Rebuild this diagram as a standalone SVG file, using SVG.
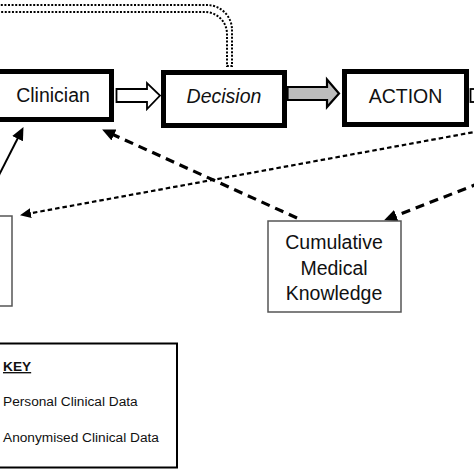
<svg xmlns="http://www.w3.org/2000/svg" width="474" height="474" viewBox="0 0 474 474">
<style>
.thick{fill:#fff;stroke:#000;stroke-width:5}
.thin{fill:#fff;stroke:#555;stroke-width:1.5}
.lbl{font-family:"Liberation Sans",Arial,sans-serif;fill:#111;text-anchor:middle}
.key{font-family:"Liberation Sans",Arial,sans-serif;fill:#111;font-size:13.7px}
.bold-dash{fill:none;stroke:#000;stroke-width:3.2;stroke-dasharray:9 6}
.fine-dash{fill:none;stroke:#000;stroke-width:2.2;stroke-dasharray:4.5 3}
</style>
<defs>
<marker id="hBig" markerUnits="userSpaceOnUse" markerWidth="14" markerHeight="14" refX="6" refY="6" orient="auto" viewBox="0 0 14 14">
<path d="M0,0 L13,6 L0,12 z" fill="#000"/>
</marker>
<marker id="hSmall" markerUnits="userSpaceOnUse" markerWidth="12" markerHeight="12" refX="5" refY="5" orient="auto" viewBox="0 0 12 12">
<path d="M0,0 L11,5 L0,10 z" fill="#000"/>
</marker>
</defs>
<rect width="474" height="474" fill="#fff"/>

<g id="connectors">
<path d="M-10 5 H207 A25 25 0 0 1 232 30 V66 H227 V34 A22 22 0 0 0 205 12 H-10" fill="none" stroke="#000" stroke-width="2" stroke-dasharray="2 1.6"/>
<path d="M116.5 89 H147 V83 L160 95.5 L147 109 V102 H116.5 Z" fill="#fff" stroke="#000" stroke-width="1.8" stroke-linejoin="miter"/>
<path d="M287.5 87 H327 V79.5 L339 93.5 L327 107 V100 H287.5 Z" fill="#bdbdbd" stroke="#000" stroke-width="2.2" stroke-linejoin="miter"/>
<rect x="470.5" y="89" width="10" height="13" fill="#fff" stroke="#000" stroke-width="1.8"/>
<line x1="-3" y1="179" x2="20.3" y2="133.3" stroke="#000" stroke-width="2" marker-end="url(#hBig)"/>
<line x1="297" y1="218" x2="108.5" y2="132.5" class="bold-dash" marker-end="url(#hBig)"/>
<line x1="480" y1="183" x2="390.6" y2="217.8" class="bold-dash" marker-end="url(#hBig)"/>
<line x1="480" y1="131" x2="25.9" y2="214.1" class="fine-dash" marker-end="url(#hSmall)"/>
</g>

<g id="clinician">
<rect x="-10" y="71.5" width="121.5" height="48" class="thick"/>
<text x="53" y="102" class="lbl" font-size="19.5">Clinician</text>
</g>
<g id="decision">
<rect x="163.5" y="72.5" width="121" height="53" class="thick"/>
<text x="224" y="103" class="lbl" font-size="19.5" font-style="italic">Decision</text>
</g>
<g id="action">
<rect x="344.5" y="71.5" width="122" height="53" class="thick"/>
<text x="405.5" y="102.5" class="lbl" font-size="19.5">ACTION</text>
</g>
<g id="left-box">
<rect x="-10" y="216" width="22" height="90" class="thin"/>
</g>
<g id="knowledge">
<rect x="268" y="221" width="133" height="91" class="thin"/>
<text x="334" y="249" class="lbl" font-size="19.5">Cumulative</text>
<text x="334" y="275" class="lbl" font-size="19.5">Medical</text>
<text x="334" y="300" class="lbl" font-size="19.5">Knowledge</text>
</g>
<g id="key">
<rect x="-10" y="343.5" width="187" height="124" fill="#fff" stroke="#000" stroke-width="2"/>
<text x="3" y="371" class="key" font-weight="bold" text-decoration="underline">KEY</text>
<text x="3" y="406" class="key">Personal Clinical Data</text>
<text x="3" y="442" class="key">Anonymised Clinical Data</text>
</g>
</svg>
